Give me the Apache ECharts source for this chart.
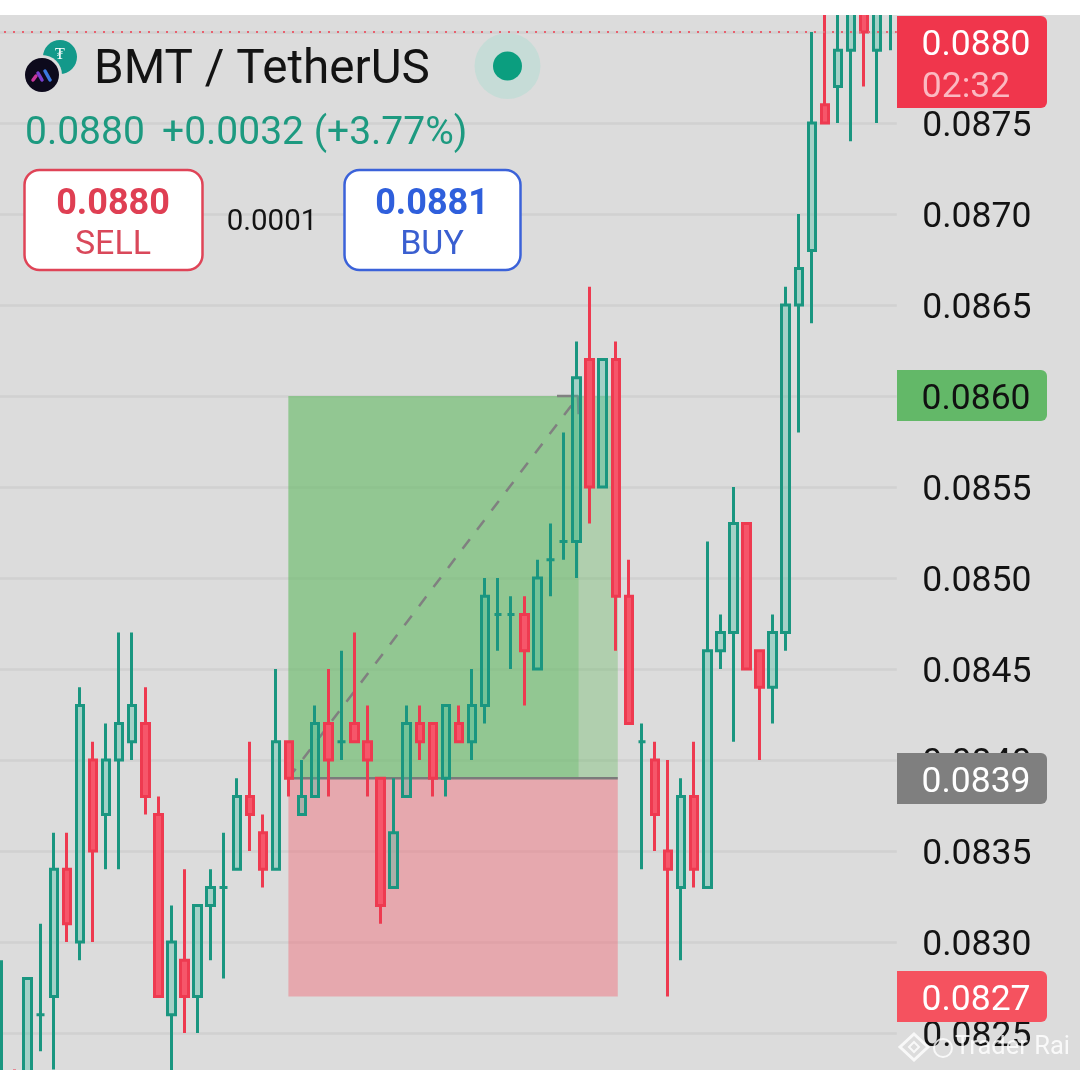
<!DOCTYPE html>
<html><head><meta charset="utf-8">
<style>html,body{margin:0;padding:0;background:#dcdcdc}#c{width:1080px;height:1070px}</style>
<script src="https://cdn.jsdelivr.net/npm/echarts@6/dist/echarts.min.js"></script>
</head><body><div id="c"></div>
<script>
const opens  = [.0820,.0822,.0822,.0826,.0827,.0834,.0830,.0840,.0837,.0840,.0841,.0842,.0837,.0826,.0829,.0827,.0832,.0833,.0834,.0838,.0836,.0834,.0841,.0837,.0838,.0842,.0841,.0842,.0841,.0839,.0833,.0838,.0842,.0842,.0839,.0842,.0841,.0843,.0848,.0848,.0848,.0845,.0851,.0852,.0852,.0862,.0855,.0862,.0849,.0841,.0840,.0835,.0833,.0838,.0833,.0846,.0847,.0853,.0846,.0844,.0847,.0865,.0868,.0876,.0877,.0879,.0884,.0879,.0882];
const closes = [.0822,.0821,.0828,.0826,.0834,.0831,.0843,.0835,.0840,.0842,.0843,.0838,.0827,.0830,.0827,.0832,.0833,.0833,.0838,.0837,.0834,.0841,.0839,.0838,.0842,.0840,.0841,.0841,.0840,.0832,.0836,.0842,.0841,.0839,.0843,.0841,.0843,.0849,.0848,.0848,.0846,.0850,.0851,.0852,.0861,.0855,.0862,.0849,.0842,.0841,.0837,.0834,.0838,.0834,.0846,.0847,.0853,.0845,.0844,.0847,.0865,.0867,.0875,.0875,.0879,.0884,.0880,.0884,.0884];
const lows   = [.0820,.0820,.0821,.0824,.0823,.0830,.0829,.0830,.0834,.0834,.0840,.0837,.0827,.0822,.0825,.0825,.0829,.0828,.0834,.0835,.0833,.0834,.0838,.0837,.0838,.0838,.0840,.0841,.0838,.0831,.0833,.0838,.0840,.0838,.0838,.0841,.0840,.0842,.0846,.0845,.0843,.0845,.0849,.0851,.0850,.0853,.0855,.0846,.0842,.0834,.0835,.0827,.0829,.0833,.0833,.0845,.0841,.0845,.0840,.0842,.0846,.0858,.0864,.0875,.0875,.0874,.0877,.0875,.0879];
const highs  = [.0829,.0823,.0828,.0831,.0836,.0836,.0844,.0841,.0842,.0847,.0847,.0844,.0838,.0832,.0834,.0832,.0834,.0836,.0839,.0841,.0837,.0845,.0841,.0840,.0843,.0845,.0846,.0847,.0843,.0839,.0839,.0843,.0843,.0842,.0843,.0843,.0845,.0850,.0850,.0849,.0849,.0851,.0853,.0858,.0863,.0866,.0862,.0863,.0851,.0842,.0841,.0840,.0839,.0841,.0852,.0848,.0855,.0853,.0846,.0848,.0866,.0870,.0880,.0884,.0883,.0885,.0885,.0885,.0885];
const slots = opens.map((_, i) => String(i));
const entryPrice = .0839, targetPrice = .0860, stopPrice = .0827, lastPrice = .0880;
const toolStart = 21.95, toolEnd = 47.15, toolProgress = 44.15;
const pathX = [toolStart, toolProgress], pathY = [entryPrice, targetPrice];
const arrowX = [42.5, 44.1, 44.15], arrowY = [.0860, .0860, .0859];
const zoneStarts = [toolStart, toolStart, toolStart];
const zoneEnds   = [toolEnd, toolProgress, toolEnd];
const zoneTops   = [targetPrice, targetPrice, entryPrice];
const zoneBottoms= [entryPrice, entryPrice, stopPrice];
const zoneColors = ['rgba(110,187,105,.4)','rgba(103,187,106,.4)','rgba(240,116,128,.5)'];

const UP='#1a9680', DOWN='#ee3a50', F='Roboto';
const T=(text,x,y,size,fill,o={})=>({type:'text',z:100,style:Object.assign({text,x,y,font:`${o.weight||'normal'} ${size}px ${F}`,fill,align:o.align||'left',verticalAlign:'middle',textAlign:o.align||'left',textVerticalAlign:'middle'},o.extra||{})});
const R=(x,y,w,h,r,fill,stroke,lw,z=99)=>({type:'rect',z,shape:{x,y,width:w,height:h,r},style:{fill,stroke:stroke||null,lineWidth:lw||0}});
const C=(cx,cy,r,fill,z=99)=>({type:'circle',z,shape:{cx,cy,r},style:{fill}});
const L=(x1,y1,x2,y2,stroke,lw,z=101)=>({type:'line',z,shape:{x1,y1,x2,y2},style:{stroke,lineWidth:lw,lineCap:'round'}});
const P=(pts,stroke,lw,z=101)=>({type:'polygon',z,shape:{points:pts},style:{fill:null,stroke,lineWidth:lw}});

const graphics=[
  R(0,0,1080,15,0,'#ffffff',null,0,98),
  // price tags
  R(897,16,150,92,[0,6,6,0],'#f0364c'),
  T('0.0880',976,46,35.5,'#ffffff',{align:'center'}),
  T('02:32',966,88,35.5,'#fbb9c1',{align:'center'}),
  R(897,370,150,51,[0,6,6,0],'#63b868'),
  T('0.0860',976,400,35.5,'#111111',{align:'center'}),
  R(897,753,150,51,[0,6,6,0],'#7f7f7f'),
  T('0.0839',976,783,35.5,'#ffffff',{align:'center'}),
  R(897,971,150,51,[0,6,6,0],'#f5525f'),
  T('0.0827',976,1001,35.5,'#ffffff',{align:'center'}),
  // header
  C(60,57,17,'#13998a'),
  T('₮',60,55,16,'#ffffff',{align:'center'}),
  C(42,75,20,'#dcdcdc',100),
  {type:'circle',z:101,shape:{cx:42,cy:75,r:17},style:{fill:'#0d0a1c'}},
  L(33,80,36,76,'#c8359c',3.5,102),
  L(38,73,42,80,'#7a3fd0',3.5,102),
  L(45,71,50,80,'#3a78e0',3.5,102),
  T('BMT / TetherUS',94,71,47.6,'#131313'),
  C(507.5,66,33,'#c6dcd7'),
  C(507.5,66,14.5,'#0b9e7f',100),
  T('0.0880',25,134,39,'#1d9a80'),
  T('+0.0032 (+3.77%)',162,134,39,'#1d9a80'),
  R(24.5,170,178,100,15,'#ffffff','#df4457',2.5),
  T('0.0880',113,205,36,'#df3f53',{align:'center',weight:'bold'}),
  T('SELL',113,245,34,'#d9485a',{align:'center'}),
  T('0.0001',272,223,29.5,'#131313',{align:'center'}),
  R(344.5,170,176,100,15,'#ffffff','#3b62d9',2.5),
  T('0.0881',432,205,36,'#2f5fdc',{align:'center',weight:'bold'}),
  T('BUY',432,245,34,'#3a5fd0',{align:'center'}),
  // watermark
  P([[914,1034],[928,1047],[914,1060],[900,1047]],'rgba(255,255,255,.8)',3),
  P([[914,1042],[919,1047],[914,1052],[909,1047]],'rgba(255,255,255,.8)',2),
  {type:'circle',z:101,shape:{cx:943,cy:1048,r:9},style:{fill:null,stroke:'rgba(255,255,255,.8)',lineWidth:2}},
  T('Trader Rai',955,1048,25.5,'rgba(255,255,255,.82)')
];

const chart=echarts.init(document.getElementById('c'),null,{renderer:'canvas'});
chart.setOption({
  animation:false,
  backgroundColor:'#dcdcdc',
  grid:{left:-5,top:-59,width:901.8,height:1183,containLabel:false,outerBoundsMode:'none'},
  xAxis:[
    {type:'category',data:slots,show:false,boundaryGap:true},
    {type:'value',min:-0.5,max:68.5,show:false}
  ],
  yAxis:{type:'value',position:'right',min:.0820,max:.0885,interval:.0005,scale:true,
    axisLine:{show:false},axisTick:{show:false},
    axisLabel:{margin:25.5,formatter:v=>'{p|'+v.toFixed(4)+'}',
      rich:{p:{fontFamily:F,fontSize:35.5,color:'#131313',padding:[8,0,0,0]}}},
    splitLine:{show:true,lineStyle:{color:'#d1d1d1',width:2.5}}},
  graphic:{elements:graphics},
  series:[
    {type:'custom',xAxisIndex:1,silent:true,z:1,clip:false,
      data:zoneStarts.map((s,i)=>[s,zoneEnds[i],zoneTops[i],zoneBottoms[i],i]),
      encode:{x:[0,1],y:[2,3]},
      renderItem:(p,api)=>{
        const a=api.coord([api.value(0),api.value(2)]),b=api.coord([api.value(1),api.value(3)]);
        return {type:'rect',shape:{x:a[0],y:a[1],width:b[0]-a[0],height:b[1]-a[1]},style:{fill:zoneColors[api.value(4)]}};
      }},
    {type:'line',xAxisIndex:1,silent:true,z:2,showSymbol:false,symbol:'none',
      data:[[toolStart,entryPrice],[toolEnd,entryPrice]],lineStyle:{color:'#7b7b7b',width:2.5}},
    {type:'line',xAxisIndex:1,silent:true,z:2,showSymbol:false,symbol:'none',
      data:pathX.map((x,i)=>[x,pathY[i]]),lineStyle:{color:'#808080',width:2.5,type:[12,12]}},
    {type:'line',xAxisIndex:1,silent:true,z:2,showSymbol:false,symbol:'none',
      data:arrowX.map((x,i)=>[x,arrowY[i]]),lineStyle:{color:'#808080',width:2.5}},
    {type:'candlestick',xAxisIndex:0,silent:true,z:3,barWidth:8,
      data:opens.map((o,i)=>[o,closes[i],lows[i],highs[i]]),
      itemStyle:{color:'rgba(60,190,160,.35)',color0:'#f6566a',borderColor:UP,borderColor0:DOWN,borderColorDoji:UP,borderWidth:3}},
    {type:'line',xAxisIndex:1,silent:true,z:4,showSymbol:false,symbol:'none',
      data:[[-0.5,lastPrice],[68.5,lastPrice]],lineStyle:{color:'#e8616f',width:2,type:[2,7]}}
  ]
});
</script></body></html>
